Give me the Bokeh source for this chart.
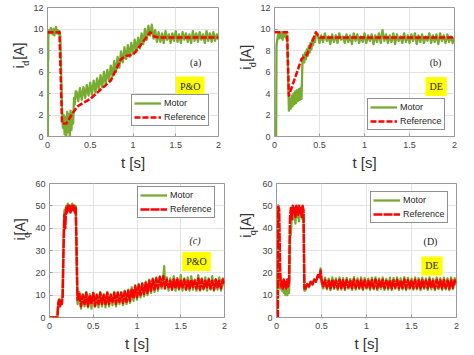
import numpy as np
from bokeh.plotting import figure
from bokeh.models import Legend, LegendItem, Label, FixedTicker, Range1d
from bokeh.core.properties import value
from bokeh.layouts import column, row
from bokeh.embed import file_html
from bokeh.resources import INLINE

# ---------------- data ----------------
X_TICKS = [0, 0.5, 1, 1.5, 2]
ID_TICKS = [0, 2, 4, 6, 8, 10, 12]
IQ_TICKS = [0, 10, 20, 30, 40, 50, 60]
LEGEND_LABELS = ["Motor", "Reference"]

# each series: list of (t_start, t_end, values) – values spread over the span
A_MOTOR = [
    (0.0, 0.004, [0, 0]),
    (0.006, 0.01, [9.6, 7.0, 9.8]),
    (0.02, 0.15, [9.9, 9.6, 10.1, 9.7, 9.5, 10.0, 9.4, 9.8, 10.2, 9.6, 9.9, 9.5, 9.8, 9.3]),
    (0.16, 0.33, [6.0, 2.5, 0.8, 2.0, 0.2, 1.8, 0.0, 2.3, 0.4, 2.1, 0.0, 2.4, 0.6, 2.2, 1.2, 3.6, 3.0, 4.2]),
    (0.34, 1.28, [4.2, 3.3, 4.5, 3.4, 4.6, 3.6, 4.8, 3.8, 5.0, 3.9,
                  5.2, 4.1, 5.4, 4.4, 5.7, 4.6, 6.0, 4.9, 6.2, 5.2,
                  6.6, 5.6, 7.0, 6.0, 7.4, 6.4, 7.9, 6.9, 8.3, 7.2,
                  8.5, 7.4, 8.7, 7.7, 9.0, 7.9, 9.2, 8.2, 9.6, 8.6,
                  10.0, 9.0, 10.3, 9.4, 10.4, 9.1, 9.9, 8.8]),
    (1.30, 2.00, [9.7, 8.8, 9.6, 8.7, 9.8, 9.0, 9.5, 8.7, 9.6, 8.9,
                  9.8, 8.8, 9.5, 8.7, 9.7, 9.0, 9.6, 8.8, 9.5, 8.7,
                  9.8, 8.9, 9.6, 8.8, 9.7, 9.0, 9.5, 8.7, 9.8, 8.9,
                  9.6, 8.8, 9.7, 8.9, 9.5, 9.0]),
]
A_REF_T = [0, 0.14, 0.17, 0.22, 0.28, 0.35, 0.5, 0.74, 0.86, 0.92, 1.0, 1.09, 1.2, 1.25, 1.3, 2.0]
A_REF_V = [9.7, 9.7, 1.2, 1.2, 2.0, 2.8, 3.5, 5.2, 7.2, 7.5, 7.6, 8.5, 9.7, 9.3, 9.2, 9.2]

B_MOTOR = [
    (0.0, 0.018, [0, 0]),
    (0.022, 0.03, [8.4, 9.0]),
    (0.04, 0.14, [9.5, 9.1, 9.6, 9.2, 9.7, 9.0, 9.5, 9.3, 9.6, 9.1, 9.4]),
    (0.15, 0.31, [6.0, 2.4, 3.5, 2.6, 3.8, 2.8, 4.0, 3.0, 4.2, 3.1, 4.3, 3.3, 4.4, 3.4, 4.5, 3.5, 6.8]),
    (0.32, 0.46, [7.6, 6.9, 7.8, 7.2, 8.1, 7.5, 8.4, 7.8, 8.7, 8.1, 9.0, 8.5, 9.3, 8.8, 9.5]),
    (0.48, 2.00, [9.5, 8.7, 9.4, 8.8, 9.6, 8.9, 9.3, 8.6, 9.5, 8.8,
                  9.4, 8.7, 9.6, 9.0, 9.3, 8.7, 9.5, 8.8, 9.4, 8.6,
                  9.6, 8.9, 9.5, 8.7, 9.3, 8.8, 9.6, 8.7, 9.4, 8.9,
                  9.5, 8.6, 9.4, 8.8, 9.6, 8.7, 9.9, 8.9, 9.5, 8.7,
                  9.4, 8.8, 9.6, 8.6, 9.5, 8.9, 9.3, 8.7, 9.6, 8.8,
                  9.4, 8.7, 9.5, 8.9, 9.6, 8.6, 9.4, 8.8, 9.5, 8.7,
                  9.3, 8.9, 9.6, 8.7, 9.4, 8.8, 9.5, 8.6, 9.6, 8.9,
                  9.4, 8.7, 9.5, 8.8, 9.3, 8.7, 9.2]),
]
B_REF_T = [0, 0.14, 0.16, 0.30, 0.36, 0.46, 0.5, 2.0]
B_REF_V = [9.7, 9.7, 3.8, 7.2, 7.6, 9.7, 9.2, 9.2]

C_MOTOR = [
    (0.0, 0.09, [0, 0]),
    (0.10, 0.19, [7, 6, 8, 6, 8, 10, 35, 48, 44, 50]),
    (0.20, 0.30, [48, 51, 49, 50, 48, 50, 51, 49, 50, 48, 50]),
    (0.31, 0.32, [25, 6]),
    (0.34, 0.80, [11.5, 4, 10.5, 5, 11.5, 4.5, 10.5, 4, 11, 5,
                  10.5, 4.5, 11.5, 5, 10.5, 4.5, 11.5, 5, 10.5, 5.5,
                  11.5, 5, 11.5, 6]),
    (0.82, 1.30, [11.5, 5.5, 12, 6, 12.5, 6.5, 13.5, 7.5, 14.5, 8,
                  15, 9, 15.5, 9.5, 16, 10, 17, 11, 17.5, 11.5,
                  18, 12, 18.5, 13, 17]),
    (1.31, 1.32, [23, 15]),
    (1.34, 2.00, [18, 12, 17.5, 12.5, 18.5, 12, 17, 12.5, 19, 12,
                  17.5, 12.5, 18, 12, 18.5, 12.5, 17, 12, 19, 12,
                  17.5, 12.5, 18, 12, 17.5, 12.5, 18.5, 12, 17, 12.5,
                  18, 12, 17.5, 14]),
]
C_REF = [
    (0.0, 0.09, [0, 0]),
    (0.10, 0.19, [6, 8, 5, 8, 6, 9, 30, 46, 40, 49]),
    (0.20, 0.30, [47, 50, 48, 50, 47, 49, 50, 48, 50, 47, 49]),
    (0.31, 0.32, [30, 8]),
    (0.34, 0.80, [11, 5, 10, 6, 11, 5, 10, 6, 11, 5,
                  10, 6, 11, 6, 10, 6, 11, 6, 10, 7,
                  11, 6, 11, 7]),
    (0.82, 1.30, [11, 6.5, 11.5, 7, 12, 7.5, 13, 8.5, 14, 9,
                  14.5, 10, 15, 10.5, 15.5, 11, 16.5, 12, 17, 12.5,
                  17.5, 13, 18, 14, 18.5]),
    (1.32, 2.00, [13, 17, 13.5, 16.5, 12.5, 17, 13, 17.5, 13, 16.5,
                  13.5, 17, 12.5, 16.5, 13, 17, 13.5, 16.5, 13, 17.5,
                  12.5, 17, 13, 16.5, 13.5, 17, 13, 16.5, 12.5, 17,
                  13.5, 16.5, 13, 17, 15]),
]

D_MOTOR = [
    (0.0, 0.0, [0]),
    (0.003, 0.012, [25, 50, 47]),
    (0.02, 0.03, [20, 15]),
    (0.04, 0.14, [13, 16, 12, 15, 11, 14, 10, 13, 10, 12, 11]),
    (0.15, 0.17, [40, 37, 46]),
    (0.18, 0.30, [49, 44, 48, 42, 50, 45, 47, 43, 49, 46, 48, 44, 47]),
    (0.31, 0.31, [12]),
    (0.32, 0.48, [12, 14.5, 13.5, 15.5, 14.5, 17, 16, 18.5, 18]),
    (0.49, 0.52, [22, 16, 14, 13]),
    (0.54, 2.00, [17.8, 12.6, 17.4, 12.3, 18.0, 12.8, 17.5, 12.4, 17.9, 12.5,
                  17.6, 12.3, 17.7, 12.9, 17.3, 12.4, 18.1, 12.5, 17.5, 12.7,
                  17.9, 12.3, 17.6, 12.8, 17.4, 12.4, 17.8, 12.6, 18.0, 12.3,
                  17.5, 12.7, 17.9, 12.4, 17.3, 12.5, 17.8, 12.3, 17.6, 12.8,
                  17.9, 12.4, 17.5, 12.6, 18.1, 12.3, 17.7, 12.7, 17.4, 12.5,
                  17.9, 12.6, 17.6, 12.3, 17.8, 12.8, 17.5, 12.4, 18.0, 12.6,
                  17.4, 12.3, 17.9, 12.7, 17.6, 12.4, 17.8, 12.6, 17.5, 12.3,
                  17.9, 12.7, 17.6, 14.5]),
]
D_REF = [
    (0.0, 0.015, [0, 0]),
    (0.02, 0.05, [50, 48, 22, 14]),
    (0.06, 0.14, [16, 13, 17, 14, 16, 13, 17, 14, 16]),
    (0.15, 0.17, [45, 49, 44]),
    (0.18, 0.30, [50, 47, 49, 45, 50, 48, 46, 50, 47, 49, 45, 50, 48]),
    (0.31, 0.31, [13]),
    (0.32, 0.48, [13, 15, 14, 16, 15, 17, 16, 19, 18]),
    (0.49, 0.52, [21, 17, 15, 14]),
    (0.54, 2.00, [16.8, 13.3, 16.5, 13.0, 17.0, 13.4, 16.6, 13.1, 16.9, 13.2,
                  16.7, 13.0, 16.8, 13.5, 16.4, 13.1, 17.0, 13.2, 16.6, 13.3,
                  16.9, 13.0, 16.7, 13.4, 16.5, 13.1, 16.8, 13.2, 17.0, 13.0,
                  16.6, 13.3, 16.9, 13.1, 16.5, 13.2, 16.8, 13.0, 16.7, 13.4,
                  16.9, 13.1, 16.6, 13.2, 17.0, 13.0, 16.8, 13.3, 16.5, 13.1,
                  16.9, 13.2, 16.7, 13.0, 16.8, 13.4, 16.6, 13.1, 17.0, 13.2,
                  16.5, 13.0, 16.9, 13.3, 16.7, 13.1, 16.8, 13.2, 16.6, 13.0,
                  16.9, 13.3, 16.7, 15.0]),
]

PANEL_TAGS = ["(a)", "(b)", "(c)", "(D)"]
METHOD_TAGS = ["P&O", "DE", "P&O", "DE"]
Y_LABEL_SUBS = ["d", "d", "q", "q"]

# ---------------- helpers ----------------
GREEN = "#77AC30"
RED = "#FF0000"
FONT = "Liberation Sans"
SERIF = "Liberation Serif"


def expand(segs):
    ts, vs = [], []
    for t0, t1, vals in segs:
        if len(vals) == 1:
            ts.append(t0)
            vs.append(vals[0])
        else:
            ts.extend(np.linspace(t0, t1, len(vals)).tolist())
            vs.extend(vals)
    return ts, vs


def ylabel_strip(w, h, sub, base_x, y_i, y_sub, y_a):
    """narrow figure that carries the rotated  i_sub [A]  axis title (pixel coords)"""
    s = figure(width=w, height=h, x_range=Range1d(0, w), y_range=Range1d(0, h),
               output_backend="svg", toolbar_location=None,
               x_axis_location=None, y_axis_location=None,
               min_border=0, min_border_left=0, min_border_right=0,
               min_border_top=0, min_border_bottom=0)
    s.outline_line_color = None
    s.grid.visible = False
    s.background_fill_color = "white"
    s.border_fill_color = "white"
    common = dict(angle=np.pi / 2, text_align="left", text_baseline="alphabetic",
                  text_font=value(FONT), text_color="#333333")
    s.text(x=[base_x], y=[h - y_i], text=["i"], text_font_size=value("14px"), **common)
    s.text(x=[base_x + 7], y=[h - y_sub], text=[sub], text_font_size=value("9px"), **common)
    s.text(x=[base_x], y=[h - y_a], text=["[A]"], text_font_size=value("14px"), **common)
    return s


def panel(motor, ref, ymax, yticks, w, borders, legend_loc,
          tag, tag_xy, tag_style, method, method_xy, ref_dash):
    left, right, top, bottom, h = borders
    p = figure(width=w, height=h, x_range=Range1d(0, 2), y_range=Range1d(0, ymax),
               output_backend="svg", toolbar_location=None,
               min_border_left=left, min_border_right=right,
               min_border_top=top, min_border_bottom=bottom)
    p.background_fill_color = "white"
    p.border_fill_color = "white"
    p.outline_line_color = "#9a9a9a"
    p.outline_line_width = 1
    p.xaxis.ticker = FixedTicker(ticks=X_TICKS)
    p.yaxis.ticker = FixedTicker(ticks=yticks)
    p.grid.grid_line_color = "#e3e3e3"
    p.grid.grid_line_width = 1
    for ax in (p.xaxis, p.yaxis):
        ax.axis_line_color = None
        ax.major_tick_in = 3
        ax.major_tick_out = 0
        ax.major_tick_line_color = "#9a9a9a"
        ax.minor_tick_line_color = None
        ax.major_label_text_font = FONT
        ax.major_label_text_font_size = "9px"
        ax.major_label_text_color = "#444444"
    p.xaxis.major_label_standoff = 5
    p.yaxis.major_label_standoff = 4
    p.xaxis.axis_label = "t [s]"
    p.xaxis.axis_label_text_font = FONT
    p.xaxis.axis_label_text_font_size = "15px"
    p.xaxis.axis_label_text_font_style = "normal"
    p.xaxis.axis_label_text_color = "#333333"
    p.xaxis.axis_label_standoff = 3

    mt, mv = motor
    rt, rv = ref
    g = p.line(mt, mv, line_color=GREEN, line_width=2.3, line_join="round")
    r = p.line(rt, rv, line_color=RED, line_width=2.5, line_dash=ref_dash, line_join="round")

    leg = Legend(items=[LegendItem(label=LEGEND_LABELS[0], renderers=[g]),
                        LegendItem(label=LEGEND_LABELS[1], renderers=[r])],
                 location=legend_loc)
    leg.label_text_font = FONT
    leg.label_text_font_size = "9px"
    leg.label_text_color = "#262626"
    leg.glyph_width = 27
    leg.glyph_height = 12
    leg.label_height = 12
    leg.label_standoff = 3
    leg.padding = 2
    leg.spacing = 2
    leg.margin = 0
    leg.border_line_color = "#222222"
    leg.border_line_width = 1
    leg.background_fill_color = "white"
    leg.background_fill_alpha = 1
    p.add_layout(leg)

    p.add_layout(Label(x=tag_xy[0], y=tag_xy[1], text=tag, text_align="center",
                       text_baseline="middle", text_font=SERIF, text_font_size="10px",
                       text_font_style=tag_style, text_color="#222222"))
    p.add_layout(Label(x=method_xy[0], y=method_xy[1], text=method, text_align="center",
                       text_baseline="middle", text_font=SERIF, text_font_size="10px",
                       text_color="#222222", background_fill_color="#FFFF00",
                       padding=4))
    return p


# panel a
la = ylabel_strip(30, 178, Y_LABEL_SUBS[0], 18.0, 84, 80.5, 72)
pa = panel(expand(A_MOTOR), (A_REF_T, A_REF_V), 12, ID_TICKS, 207, (16, 19, 5, 40, 178), (84, 10),
           PANEL_TAGS[0], (1.733, 6.86), "normal", METHOD_TAGS[0], (1.669, 4.69), "6 2")
# panel b
lb = ylabel_strip(20, 178, Y_LABEL_SUBS[1], 8.5, 86, 82.5, 75)
pb = panel(expand(B_MOTOR), (B_REF_T, B_REF_V), 12, ID_TICKS, 217, (16, 20, 7, 42, 178), (93, 6),
           PANEL_TAGS[1], (1.79, 6.88), "normal", METHOD_TAGS[1], (1.796, 4.65), "6 2")
# panel c
lc = ylabel_strip(32, 177, Y_LABEL_SUBS[2], 19.5, 75.3, 71.8, 68.7)
pc = panel(expand(C_MOTOR), expand(C_REF), 60, IQ_TICKS, 205, (17, 13, 5, 37, 177), (88, 99),
           PANEL_TAGS[2], (1.663, 34.7), "italic", METHOD_TAGS[2], (1.68, 25.1), "9 1")
# panel d
ld = ylabel_strip(22, 177, Y_LABEL_SUBS[3], 8.5, 71.7, 68.2, 61.7)
pd = panel(expand(D_MOTOR), expand(D_REF), 60, IQ_TICKS, 215, (17, 18, 5, 38, 177), (94, 94),
           PANEL_TAGS[3], (1.711, 34.0), "normal", METHOD_TAGS[3], (1.728, 23.06), "9 1")

layout = column(row(la, pa, lb, pb, spacing=0), row(lc, pc, ld, pd, spacing=0), spacing=0)
open("out.html", "w").write(file_html(layout, INLINE))
